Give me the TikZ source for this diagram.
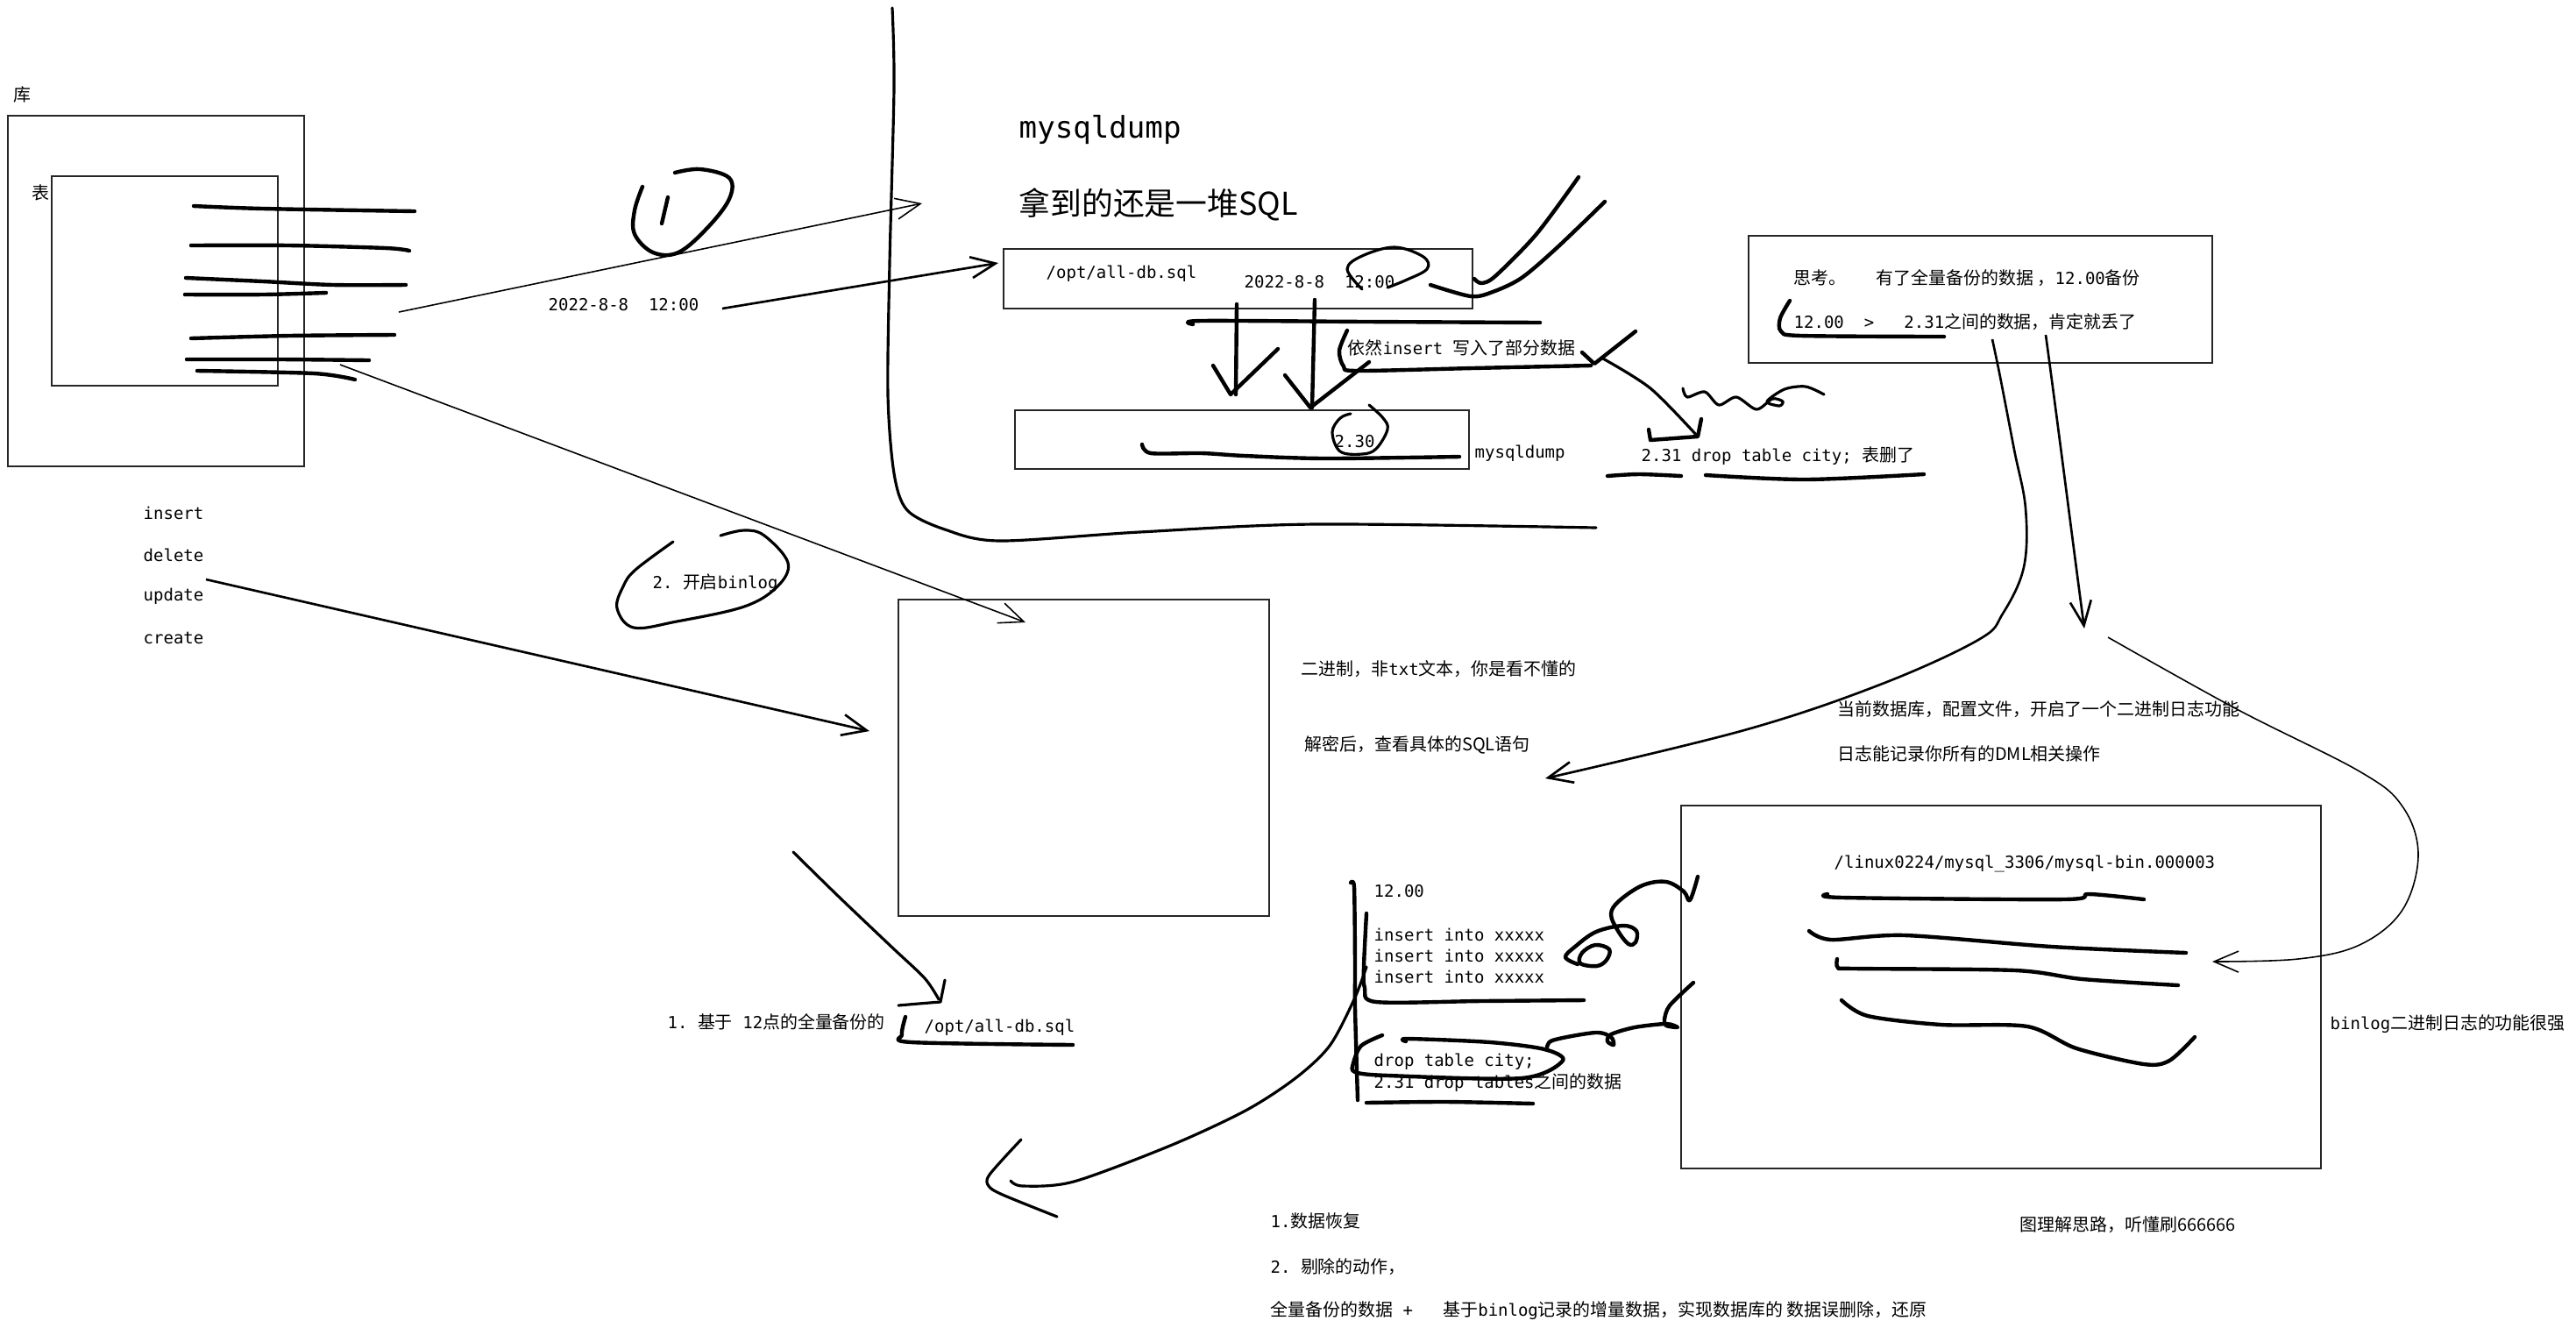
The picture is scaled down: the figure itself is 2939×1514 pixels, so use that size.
\documentclass[tikz,border=0pt]{standalone}
\usepackage{fontspec}
\setmainfont{DejaVu Sans Mono}
\newfontfamily\cjk{Noto Sans CJK SC}[Scale=1.05]
\usetikzlibrary{arrows.meta,fit}
\tikzset{
  txt/.style={anchor=west, inner sep=0pt, font=\fontsize{5.4}{6.5}\selectfont},
  bigtxt/.style={anchor=west, inner sep=0pt, font=\fontsize{9.7}{11}\selectfont},
  box/.style={draw=black!85, line width=0.55pt, inner sep=0pt},
  pen/.style={line width=1.25pt, line cap=round, line join=round},
  medpen/.style={line width=0.9pt, line cap=round, line join=round},
  thinarrow/.style={line width=0.45pt, -{Straight Barb[length=2.8mm,width=2.4mm]}},
  roughline/.style={line width=0.75pt, -{Straight Barb[length=2.8mm,width=2.4mm]}},
}
\begin{document}
\begin{tikzpicture}[x=0.01cm,y=-0.01cm]
\useasboundingbox[fill=white] (0,0) rectangle (2939,1514);

% ---------- boxes ----------
\node[box, fit={(9,132)(347,532)}] (ku) {};
\node[box, fit={(59,201)(317,440)}] (biao) {};
\node[box, fit={(1145,284)(1680,352)}] (boxA) {};
\node[box, fit={(1158,468)(1676,535)}] (boxB) {};
\node[box, fit={(1025,684)(1448,1045)}] (boxC) {};
\node[box, fit={(1995,269)(2524,414)}] (boxD) {};
\node[box, fit={(1918,919)(2648,1333)}] (boxE) {};

% ---------- texts ----------
\node[txt] (tku) at (15,108) {{\cjk 库}};
\node[txt] (tbiao) at (36,220) {{\cjk 表}};
\node[txt] (tins) at (163,585) {insert};
\node[txt] (tdel) at (163,633) {delete};
\node[txt] (tupd) at (163,680) {update};
\node[txt] (tcre) at (163,728) {create};
\node[txt] (date1) at (625,348) {2022-8-8\ \ 12:00};
\node[bigtxt] (title1) at (1162,148) {mysqldump};
\node[bigtxt] (title2) at (1162,233) {{\cjk 拿到的还是一堆SQL}};
\node[txt] (optA) at (1193,312) {/opt/all-db.sql};
\node[txt] (date2) at (1419,322) {2022-8-8\ \ 12:00};
\node[txt] (yiran) at (1537,397) {{\cjk 依然}insert {\cjk 写入了部分数据}};
\node[txt] (v230) at (1522,504) {2.30};
\node[txt] (mdump) at (1682,517) {mysqldump};
\node[txt] (drop231) at (1872,520) {2.31 drop table city; {\cjk 表删了}};
\node[txt] (think1) at (2046,317) {{\cjk 思考。}\ \ \ {\cjk 有了全量备份的数据 ，}12.00{\cjk 备份}};
\node[txt] (think2) at (2046,367) {12.00\ \ >\ \ \ 2.31{\cjk 之间的数据，肯定就丢了}};
\node[txt] (binlog2) at (744,665) {2.\ {\cjk 开启}binlog};
\node[txt] (erjin) at (1484,763) {{\cjk 二进制，非}txt{\cjk 文本，你是看不懂的}};
\node[txt] (jiemi) at (1488,850) {{\cjk 解密后，查看具体的SQL语句}};
\node[txt] (dangq) at (2096,809) {{\cjk 当前数据库，配置文件，开启了一个二进制日志功能}};
\node[txt] (rizhi) at (2096,860) {{\cjk 日志能记录你所有的DML相关操作}};
\node[txt] (lpath) at (2092,985) {/linux0224/mysql\_3306/mysql-bin.000003};
\node[txt] (bstrong) at (2658,1168) {binlog{\cjk 二进制日志的功能很强}};
\node[txt] (jiyu) at (761,1166) {1.\ {\cjk 基于} 12{\cjk 点的全量备份的}};
\node[txt] (optB) at (1054,1172) {/opt/all-db.sql};
\node[txt] (s1200) at (1567,1017) {12.00};
\node[txt] (ins1) at (1567,1066) {insert into xxxxx};
\node[txt] (ins2) at (1567,1090) {insert into xxxxx};
\node[txt] (ins3) at (1567,1114) {insert into xxxxx};
\node[txt] (dcity) at (1567,1211) {drop table city;};
\node[txt] (dtab) at (1567,1235) {2.31 drop tables{\cjk 之间的数据}};
\node[txt] (huifu) at (1449,1393) {1.{\cjk 数据恢复}};
\node[txt] (tichu) at (1449,1445) {2.\ {\cjk 剔除的动作，}};
\node[txt] (quanl) at (1449,1495) {{\cjk 全量备份的数据} +\ \ \ {\cjk 基于}binlog{\cjk 记录的增量数据，实现数据库的 数据误删除，还原}};
\node[txt] (tuli) at (2304,1397) {{\cjk 图理解思路，听懂刷666666}};

% ---------- thin connectors ----------
\coordinate (a1s) at (455,356);  \coordinate (a1e) at (1052,232);
\coordinate (a2s) at (824,352);  \coordinate (a2e) at (1139,300);
\coordinate (a3s) at (388,416);  \coordinate (a3e) at (1170,710);
\coordinate (a4s) at (235,661);  \coordinate (a4e) at (992,834);
\coordinate (a6s) at (2334,382); \coordinate (a6e) at (2378,717);
\draw[thinarrow] (a1s) -- (a1e);
\draw[roughline] (a2s) -- (a2e);
\draw[thinarrow] (a3s) -- (a3e);
\draw[roughline] (a4s) -- (a4e);
\draw[roughline] (a6s) .. controls (2350,500) and (2365,620) .. (a6e);
\draw[roughline] plot[smooth, tension=0.6] coordinates {(2273,387) (2282,430) (2298,513) (2311,580) (2309,647) (2285,700) (2257,730) (2145,781) (1990,833) (1763,888)};
\draw[thinarrow] plot[smooth, tension=0.6] coordinates {(2405,727) (2552,809) (2692,880) (2741,920) (2759,975) (2741,1038) (2692,1078) (2622,1094) (2524,1097)};

% ---------- table strokes ----------
\draw[pen] plot[smooth] coordinates {(221,235) (300,238) (473,241)};
\draw[pen] plot[smooth] coordinates {(218,280) (330,280) (440,283) (467,286)};
\draw[pen] plot[smooth] coordinates {(212,317) (300,321) (380,325) (463,325)};
\draw[pen] plot[smooth] coordinates {(211,336) (300,336) (372,334)};
\draw[pen] plot[smooth] coordinates {(218,386) (330,383) (450,382)};
\draw[pen] plot[smooth] coordinates {(213,410) (320,410) (421,411)};
\draw[pen] plot[smooth] coordinates {(225,423) (358,426) (405,433)};

% ---------- big bracket ----------
\draw[medpen] plot[smooth, tension=0.5] coordinates {(1018,9) (1020,100) (1015,300) (1013,450) (1020,540) (1035,582) (1078,604) (1140,617) (1300,607) (1500,598) (1821,602)};

% ---------- hand marks near box A ----------
\draw[pen] plot[smooth, tension=0.6] coordinates {(733,213) (724,240) (724,267) (745,288) (774,288) (807,260) (832,227) (832,203) (799,193) (770,197)};
\draw[pen] (762,225) -- (755,255);
\draw[medpen] plot[smooth, tension=0.6] coordinates {(1554,330) (1537,307) (1554,292) (1591,282) (1624,293) (1628,307) (1603,320) (1583,328)};
\draw[pen] plot[smooth, tension=0.5] coordinates {(1801,202) (1753,267) (1706,315) (1690,323) (1682,318)};
\draw[pen] plot[smooth, tension=0.5] coordinates {(1831,230) (1777,282) (1736,317) (1703,333) (1678,338) (1632,325)};
\draw[pen] plot[smooth] coordinates {(1361,370) (1370,366) (1560,367) (1757,368)};
% down arrows
\draw[pen] (1411,347) -- (1410,450);
\draw[pen] (1384,417) -- (1404,450) -- (1458,398);
\draw[pen] (1500,342) -- (1497,465);
\draw[pen] (1466,428) -- (1495,465) -- (1562,413);
% bracket round yiran
\draw[pen] plot[smooth, tension=0.5] coordinates {(1537,377) (1528,400) (1533,418) (1548,423) (1680,420) (1815,417)};
\draw[pen] (1805,402) -- (1819,415) -- (1866,378);
\draw[medpen] plot[smooth, tension=0.5] coordinates {(1827,408) (1883,443) (1937,498)};
\draw[pen] (1881,490) -- (1883,502) -- (1937,498) -- (1941,478);
\draw[medpen] plot[smooth, tension=0.5] coordinates {(1920,443) (1925,453) (1945,447) (1961,462) (1981,453) (2004,467) (2022,455) (2034,458) (2030,463) (2016,458) (2036,444) (2060,441) (2081,450)};
\draw[pen] plot[smooth] coordinates {(1834,543) (1870,541) (1918,543)};
\draw[pen] plot[smooth] coordinates {(1946,542) (2060,547) (2195,541)};
% inside box B
\draw[pen] plot[smooth, tension=0.5] coordinates {(1303,507) (1313,517) (1371,517) (1420,520) (1512,523) (1665,521)};
\draw[medpen] plot[smooth, tension=0.6] coordinates {(1562,462) (1578,477) (1583,490) (1570,512) (1554,518) (1529,515) (1520,493) (1529,477) (1541,472)};

% ---------- thought box bracket ----------
\draw[pen] plot[smooth, tension=0.5] coordinates {(2042,343) (2031,363) (2032,378) (2055,383) (2218,384)};

% ---------- binlog loop ----------
\draw[medpen] plot[smooth, tension=0.6] coordinates {(768,618) (725,650) (711,669) (704,694) (723,716) (772,709) (849,692) (887,669) (899,642) (872,611) (849,605) (822,611)};

% ---------- stroke to /opt/all-db.sql ----------
\draw[medpen] plot[smooth, tension=0.5] coordinates {(905,972) (956,1022) (1017,1080) (1055,1116) (1071,1140)};
\draw[medpen] (1025,1147) -- (1048,1145) -- (1073,1143) -- (1078,1118);
\draw[pen] plot[smooth, tension=0.5] coordinates {(1033,1160) (1029,1180) (1040,1189) (1224,1192)};

% ---------- SQL block strokes ----------
\draw[pen] plot[smooth, tension=0.4] coordinates {(1541,1007) (1545,1012) (1546,1100) (1546,1150) (1549,1255)};
\draw[pen] plot[smooth, tension=0.5] coordinates {(1559,1042) (1556,1103) (1557,1127) (1570,1143) (1690,1142) (1807,1141)};
\draw[pen] plot[smooth, tension=0.5] coordinates {(1577,1181) (1553,1193) (1544,1213) (1546,1223) (1584,1227) (1736,1230) (1783,1210) (1762,1197) (1700,1189) (1606,1185) (1604,1188)};
\draw[pen] plot[smooth, tension=0.5] coordinates {(1765,1198) (1771,1187) (1820,1178) (1838,1183) (1841,1192) (1834,1188) (1838,1180) (1865,1172) (1901,1168) (1914,1172) (1901,1170) (1899,1163) (1905,1147) (1932,1121)};
\draw[pen] plot[smooth] coordinates {(1559,1258) (1650,1257) (1749,1259)};
\draw[pen] plot[smooth, tension=0.6] coordinates {(1800,1100) (1786,1092) (1797,1080) (1821,1063) (1852,1056) (1867,1062) (1866,1075) (1858,1077) (1846,1062) (1838,1043) (1847,1028) (1874,1010) (1901,1006) (1921,1017) (1928,1027) (1937,1000)};
\draw[pen] plot[smooth cycle, tension=0.6] coordinates {(1803,1099) (1805,1087) (1820,1078) (1836,1083) (1833,1095) (1822,1102)};

% ---------- restore arrow ----------
\draw[medpen] plot[smooth, tension=0.5] coordinates {(1559,1103) (1545,1140) (1517,1193) (1478,1230) (1421,1267) (1335,1307) (1225,1348) (1167,1353) (1153,1347)};
\draw[medpen] plot[smooth, tension=0.5] coordinates {(1165,1300) (1129,1340) (1128,1353) (1144,1363) (1206,1388)};

% ---------- strokes in box E ----------
\draw[pen] plot[smooth, tension=0.5] coordinates {(2085,1020) (2103,1024) (2355,1026) (2383,1020) (2446,1026)};
\draw[pen] plot[smooth, tension=0.5] coordinates {(2064,1062) (2089,1072) (2173,1067) (2341,1080) (2494,1087)};
\draw[pen] plot[smooth, tension=0.5] coordinates {(2096,1094) (2097,1104) (2117,1105) (2299,1107) (2376,1117) (2485,1124)};
\draw[pen] plot[smooth, tension=0.5] coordinates {(2101,1141) (2131,1159) (2215,1169) (2313,1171) (2369,1196) (2446,1214) (2475,1210) (2504,1183)};
\end{tikzpicture}
\end{document}
